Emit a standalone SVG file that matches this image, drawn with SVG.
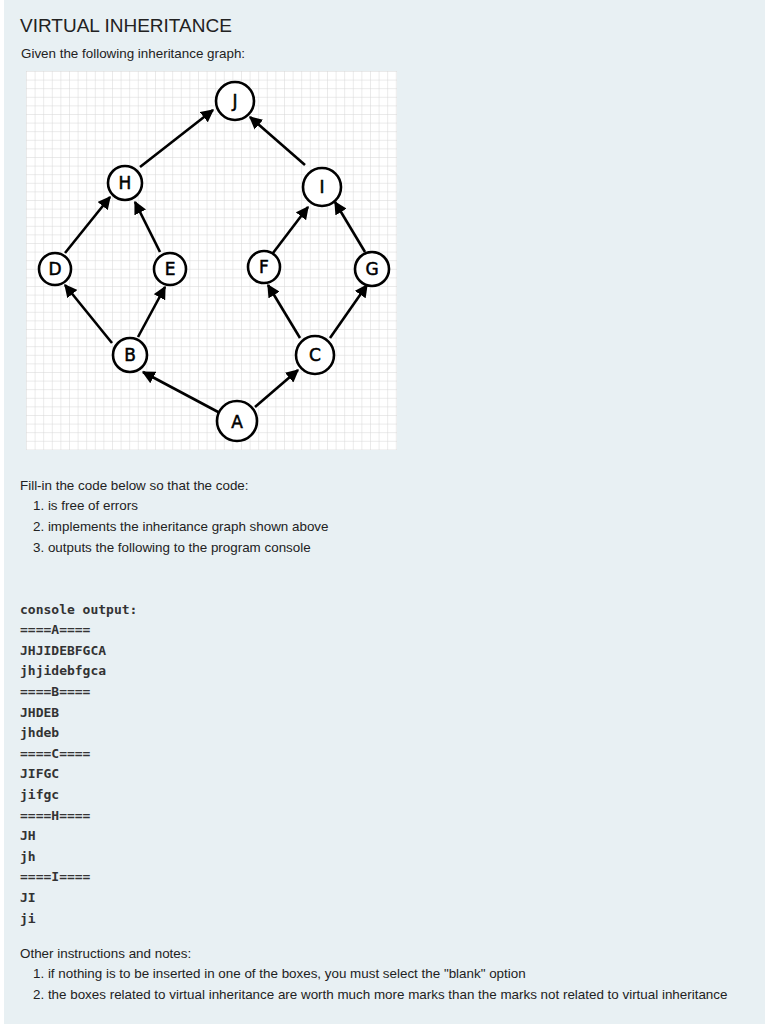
<svg xmlns="http://www.w3.org/2000/svg" width="765" height="1024" viewBox="0 0 765 1024">
<style>
.t{font-family:"Liberation Sans",Arial,sans-serif;fill:#222;}
.p{font-size:13.4px;}
.m{font-family:"DejaVu Sans Mono","Liberation Mono",monospace;font-size:13px;font-weight:bold;fill:#333;}
.n circle{fill:#fff;stroke:#000;stroke-width:2.6;}
.n text{font-family:"DejaVu Sans",sans-serif;font-size:17px;fill:#000;stroke:#000;stroke-width:0.5;text-anchor:middle;}
.e{stroke:#000;stroke-width:2.6;fill:none;marker-end:url(#ah);}
</style>
<defs>
<pattern id="grid" x="26" y="71" width="8.6" height="8.6" patternUnits="userSpaceOnUse">
<path d="M0 0H8.6M0 0V8.6" stroke="#d6d6d6" stroke-width="1" fill="none"/>
</pattern>
<marker id="ah" viewBox="0 0 10 10" refX="9" refY="5" markerWidth="5" markerHeight="5" orient="auto" markerUnits="strokeWidth">
<path d="M0 0L10 5L0 10z" fill="#000"/>
</marker>
</defs>
<rect width="765" height="1024" fill="#fff"/>
<rect x="4" y="0" width="761" height="1024" fill="#e8f0f3"/>
<text class="t" x="20" y="32" font-size="19">VIRTUAL INHERITANCE</text>
<text class="t p" x="21" y="58">Given the following inheritance graph:</text>
<rect x="26" y="71" width="371" height="379" fill="#fff"/>
<rect x="26" y="71" width="371" height="379" fill="url(#grid)"/>
<g id="connectors">
<path class="e" d="M140 167L213 110"/>
<path class="e" d="M305 165L250 117"/>
<path class="e" d="M65 253L110 197"/>
<path class="e" d="M160 252L135 202"/>
<path class="e" d="M273 253L308 207"/>
<path class="e" d="M365 252L335 202"/>
<path class="e" d="M112 343L65 285"/>
<path class="e" d="M138 337L165 287"/>
<path class="e" d="M300 338L268 285"/>
<path class="e" d="M330 338L367 285"/>
<path class="e" d="M220 413L143 372"/>
<path class="e" d="M255 407L298 370"/>
</g>
<g id="J" class="n"><circle cx="235" cy="101" r="19"/><text x="235" y="107">J</text></g>
<g id="H" class="n"><circle cx="125" cy="183" r="17"/><text x="125" y="189">H</text></g>
<g id="I" class="n"><circle cx="322" cy="187" r="19"/><text x="322" y="193">I</text></g>
<g id="D" class="n"><circle cx="55" cy="269" r="16"/><text x="55" y="275">D</text></g>
<g id="E" class="n"><circle cx="170" cy="269" r="16"/><text x="170" y="275">E</text></g>
<g id="F" class="n"><circle cx="264" cy="267" r="16"/><text x="264" y="273">F</text></g>
<g id="G" class="n"><circle cx="372" cy="269" r="17"/><text x="372" y="275">G</text></g>
<g id="B" class="n"><circle cx="130" cy="355" r="17"/><text x="130" y="361">B</text></g>
<g id="C" class="n"><circle cx="315" cy="355" r="19"/><text x="315" y="361">C</text></g>
<g id="A" class="n"><circle cx="237" cy="421" r="20"/><text x="237" y="428">A</text></g>
<text class="t p" x="20" y="490">Fill-in the code below so that the code:</text>
<text class="t p" x="33" y="510">1.  is free of errors</text>
<text class="t p" x="33" y="531">2.  implements the inheritance graph shown above</text>
<text class="t p" x="33" y="552">3.  outputs the following to the program console</text>
<g class="m">
<text x="20" y="613.5">console output:</text>
<text x="20" y="634.1">====A====</text>
<text x="20" y="654.7">JHJIDEBFGCA</text>
<text x="20" y="675.3">jhjidebfgca</text>
<text x="20" y="695.9">====B====</text>
<text x="20" y="716.5">JHDEB</text>
<text x="20" y="737.1">jhdeb</text>
<text x="20" y="757.7">====C====</text>
<text x="20" y="778.3">JIFGC</text>
<text x="20" y="798.9">jifgc</text>
<text x="20" y="819.5">====H====</text>
<text x="20" y="840.1">JH</text>
<text x="20" y="860.7">jh</text>
<text x="20" y="881.3">====I====</text>
<text x="20" y="901.9">JI</text>
<text x="20" y="922.5">ji</text>
</g>
<text class="t p" x="20" y="958">Other instructions and notes:</text>
<text class="t p" x="33" y="978">1.  if nothing is to be inserted in one of the boxes, you must select the "blank" option</text>
<text class="t p" x="33" y="999">2.  the boxes related to virtual inheritance are worth much more marks than the marks not related to virtual inheritance</text>
</svg>
